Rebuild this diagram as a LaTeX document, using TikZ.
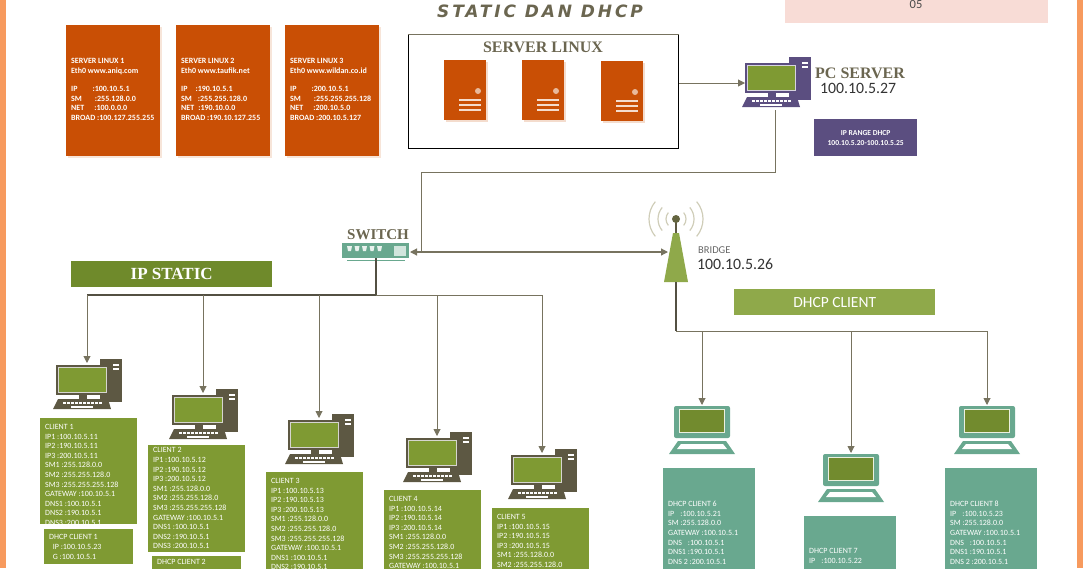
\documentclass[tikz,border=0pt]{standalone}
\usepackage{fontspec}
\setmainfont{Carlito}
\newfontfamily\TitleFont[LetterSpace=17]{DejaVu Sans}
\newfontfamily\HeadFont{Liberation Serif}
\usetikzlibrary{arrows.meta, calc, positioning, shadows}

\definecolor{FrameOrange}{HTML}{F79A5E}
\definecolor{PinkBox}{HTML}{F8DCD6}
\definecolor{ServerOrange}{HTML}{C94F05}
\definecolor{RangePurple}{HTML}{5B4E80}
\definecolor{ClientGreen}{HTML}{7F9A33}
\definecolor{BarGreen}{HTML}{6F8A2B}
\definecolor{BarLight}{HTML}{8FA94A}
\definecolor{DhcpTeal}{HTML}{69A88F}
\definecolor{IconBrown}{HTML}{5D5843}
\definecolor{WireGrey}{HTML}{77735F}
\definecolor{HeadGrey}{HTML}{6B6650}
\definecolor{WaveGrey}{HTML}{CFCDB8}

\tikzset{
	pics/Desktop/.style={code={
		\fill[#1] (13,-4) rectangle (35,39);									%Tower
		\fill[white] (26,1) rectangle (32,3);
		\fill[white] (26,5) rectangle (32,7);
		\fill[white] (10,0) rectangle (13,36);
		\fill[#1] (-31,2) rectangle (22,32);									%Monitor
		\fill[#1!25!white] (-29,4) rectangle (20,30);
		\fill[ClientGreen] (-28,5) rectangle (19,29);
		\fill[#1] (-8,32) rectangle (0,36);
		\fill[#1] (-29,36) -- (21,36) -- (24,46) -- (-34,46) -- cycle;			%Keyboard
		\foreach \k in {-24,-20,...,12} {\fill[white] (\k,39) rectangle ++(3,2);}
		\fill[white] (-16,43) rectangle (6,44.5);
	}},
	pics/Laptop/.style={code={
		\fill[DhcpTeal, rounded corners=2pt] (-28,1) rectangle (28,33);
		\fill[white!85!ClientGreen] (-23,4) rectangle (23,28);
		\fill[ClientGreen!90!black] (-22,5) rectangle (22,27);
		\fill[DhcpTeal] (-24,36) -- (24,36) -- (33,49) -- (-33,49) -- cycle;
		\fill[white] (-21,39) -- (21,39) -- (25,44) -- (-25,44) -- cycle;
	}},
	pics/ServerBox/.style={code={
		\fill[ServerOrange, drop shadow={shadow xshift=1.5pt, shadow yshift=-1.5pt, fill=ServerOrange!20, opacity=1}] (0,0) rectangle (42,60);
		\fill[white!60!ServerOrange] (34,31) circle (3);
		\foreach \l in {39,44,49} {\fill[white!80!ServerOrange] (15,\l) rectangle (37,\l+1.8);}
	}}
}

\begin{document}
\begin{tikzpicture}
		[
		x=1pt, y=-1pt,
		>={Triangle[length=7pt, width=7pt]},
		Wire/.style={draw=WireGrey, line width=0.95pt},
		Bus/.style={draw=WireGrey!70!black, line width=1.2pt},
		ServerCard/.style={anchor=north west, inner sep=0pt, fill=ServerOrange, minimum width=94pt, minimum height=131pt, drop shadow={shadow xshift=2pt, shadow yshift=-2pt, fill=ServerOrange!15, opacity=1}},
		CardBox/.style={anchor=north west, inner sep=0pt, fill=ClientGreen, minimum width=97pt},
		TealBox/.style={anchor=north west, inner sep=0pt, fill=DhcpTeal, minimum width=92pt, minimum height=130pt},
		CardText/.style={anchor=north west, inner sep=0pt, align=left, text=white, font=\fontsize{8}{9.6}\selectfont},
		ServerText/.style={CardText, font=\bfseries\fontsize{8}{9.6}\selectfont},
		HeadText/.style={text=HeadGrey, inner sep=0pt, font=\HeadFont\bfseries\fontsize{16}{16}\selectfont},
		IpText/.style={inner sep=0pt, anchor=west, text=black!80, font=\fontsize{15.8}{16}\selectfont}
		]
		\useasboundingbox (0,0) rectangle (1083,568);
		\clip (0,0) rectangle (1083,568);

		% Rahmen und Titel
		\fill[FrameOrange] (0,0) rectangle (6,568);
		\fill[FrameOrange] (1077,0) rectangle (1083,568);
		\node[inner sep=0pt, text=HeadGrey, font=\TitleFont\bfseries\itshape\fontsize{17}{17}\selectfont] (title) at (540,11) {STATIC DAN DHCP};
		\node[anchor=north west, inner sep=0pt, fill=PinkBox, minimum width=263pt, minimum height=23pt] (pinkBox) at (785,0) {};
		\node[inner sep=0pt, text=black!70, font=\fontsize{12.5}{12.5}\selectfont] (pinkText) at (916,4.5) {05};

		% Server Karten
		\node[ServerCard] (card1) at (66,25) {};
		\node[ServerCard] (card2) at (176,25) {};
		\node[ServerCard] (card3) at (285,25) {};
		\node[ServerText] (cardText1) at (71,58) {SERVER LINUX 1\\Eth0 www.aniq.com\\[9pt]IP\hspace{15pt}:100.10.5.1\\SM\hspace{13pt}:255.128.0.0\\NET\hspace{10pt}:100.0.0.0\\BROAD :100.127.255.255};
		\node[ServerText] (cardText2) at (181,58) {SERVER LINUX 2\\Eth0 www.taufik.net\\[9pt]IP\hspace{8pt}:190.10.5.1\\SM\hspace{6pt}:255.255.128.0\\NET\hspace{4pt}:190.10.0.0\\BROAD :190.10.127.255};
		\node[ServerText] (cardText3) at (290,58) {SERVER LINUX 3\\Eth0 www.wildan.co.id\\[9pt]IP\hspace{15pt}:200.10.5.1\\SM\hspace{13pt}:255.255.255.128\\NET\hspace{10pt}:200.10.5.0\\BROAD :200.10.5.127};

		% Server Linux
		\node[anchor=north west, draw=black, line width=0.9pt, inner sep=0pt, minimum width=270pt, minimum height=114pt] (serverFrame) at (408,34) {};
		\draw[WireGrey, line width=0.9pt] (serverFrame.north west) -- (serverFrame.north east);
		\node[HeadText] (serverHead) at (543,47) {SERVER LINUX};
		\pic at (444,60) {ServerBox};
		\pic at (522,60) {ServerBox};
		\pic at (601,61) {ServerBox};

		% PC Server
		\coordinate (pcServer) at (776,61);
		\pic at (pcServer) {Desktop=RangePurple};
		\coordinate (pcIn) at (745,83);
		\coordinate (pcOut) at (775,110);
		\node[HeadText, anchor=west] (pcHead) at (815,73) {PC SERVER};
		\node[IpText] (pcIp) at (820,88) {100.10.5.27};
		\node[anchor=north west, inner sep=0pt, fill=RangePurple, minimum width=103pt, minimum height=37pt, align=center] (rangeBox) at (814,119) {};
		\node[inner sep=0pt, align=center, text=white, font=\bfseries\fontsize{7.6}{10}\selectfont] (rangeText) at (rangeBox.center) {IP RANGE DHCP\\100.10.5.20-100.10.5.25};

		% Switch
		\node[anchor=north west, inner sep=0pt, fill=DhcpTeal, minimum width=67pt, minimum height=15pt] (switch) at (342,243) {};
		\foreach \p in {347,354.5,...,377} {\fill[white!85!DhcpTeal] (\p,246) -- (\p+5,246) -- (\p+4,251) -- (\p+1,251) -- cycle;}
		\fill[white!70!DhcpTeal] (394,245.5) rectangle (406,255.5);
		\draw[DhcpTeal, line width=0.7pt] (347,260.5) -- (405,260.5);
		\node[HeadText, font=\HeadFont\bfseries\fontsize{15}{15}\selectfont] (switchHead) at (378,235) {SWITCH};

		% Bridge
		\coordinate (bridge) at (676,219);
		\fill[BarLight] (673,233) -- (679,233) -- (688,282) -- (664,282) -- cycle;
		\draw[IconBrown, line width=1.6pt] (bridge) -- (676,233);
		\fill[IconBrown!80!ClientGreen] (bridge) circle (4);
		\foreach \r in {10,18,27} {
			\draw[WaveGrey, line width=1.2pt] ($(bridge)+(40:\r)$) arc[start angle=40, end angle=-40, radius=\r];
			\draw[WaveGrey, line width=1.2pt] ($(bridge)+(140:\r)$) arc[start angle=140, end angle=220, radius=\r];
		}
		\node[inner sep=0pt, anchor=west, text=black!60, font=\fontsize{10.5}{10.5}\selectfont] (bridgeHead) at (698,250) {BRIDGE};
		\node[IpText] (bridgeIp) at (697,264) {100.10.5.26};

		% Balken
		\node[anchor=north west, inner sep=0pt, fill=BarGreen, minimum width=201pt, minimum height=26pt] (staticBar) at (71,261) {};
		\node[inner sep=0pt, text=white, font=\HeadFont\bfseries\fontsize{17}{17}\selectfont] (staticText) at (staticBar.center) {IP STATIC};
		\node[anchor=north west, inner sep=0pt, fill=BarLight, minimum width=201pt, minimum height=26pt] (dhcpBar) at (734,289) {};
		\node[inner sep=0pt, text=white, font=\fontsize{15.5}{15.5}\selectfont] (dhcpText) at (dhcpBar.center) {DHCP CLIENT};

		% Koordinaten der Verbindungen
		\coordinate (wireKnee) at (775,172);
		\coordinate (wireDrop) at (421,172);
		\coordinate (wireJoin) at (421,252);
		\coordinate (switchIn) at (410,252);
		\coordinate (bridgeIn) at (668,252);
		\coordinate (switchOut) at (376,258);
		\coordinate (busNode) at (376,295);
		\coordinate (bridgeOut) at (676,282);
		\coordinate (dhcpNode) at (676,331);
		\coordinate (pc1) at (87,363);
		\coordinate (pc2) at (203,393);
		\coordinate (pc3) at (319,418);
		\coordinate (pc4) at (437,436);
		\coordinate (pc5) at (542,453);
		\coordinate (lap6) at (702,405);
		\coordinate (lap7) at (851,453);
		\coordinate (lap8) at (987,405);

		% Verbindungen
		\draw[Wire, ->] (serverFrame.east |- pcIn) -- (pcIn);
		\draw[Wire] (pcOut) -- (wireKnee) -- (wireDrop) -- (wireJoin);
		\draw[Wire, <->, line width=1.2pt] (switchIn) -- (bridgeIn);
		\draw[Bus] (switchOut) -- (busNode);
		\draw[Bus] (pc1 |- busNode) -- (busNode);
		\draw[Wire] (busNode) -- (pc5 |- busNode);
		\foreach \c in {pc1,pc2,pc3,pc4,pc5} {\draw[Wire, ->] (\c |- busNode) -- (\c);}
		\draw[Bus] (bridgeOut) -- (dhcpNode);
		\draw[Wire] (dhcpNode) -- (lap8 |- dhcpNode);
		\foreach \c in {lap6,lap7,lap8} {\draw[Wire, ->] (\c |- dhcpNode) -- (\c);}

		% Clients
		\foreach \c in {pc1,pc2,pc3,pc4,pc5} {\pic at (\c) {Desktop=IconBrown};}
		\foreach \c in {lap6,lap7,lap8} {\pic at (\c) {Laptop};}

		\node[CardBox, minimum height=106pt] (client1) at (40,418) {};
		\begin{scope}
			\clip (40,418) rectangle (137,524);
			\node[CardText] (clientText1) at (45,424) {CLIENT 1\\IP1 :100.10.5.11\\IP2 :190.10.5.11\\IP3 :200.10.5.11\\SM1 :255.128.0.0\\SM2 :255.255.128.0\\SM3 :255.255.255.128\\GATEWAY :100.10.5.1\\DNS1 :100.10.5.1\\DNS2 :190.10.5.1\\DNS3 :200.10.5.1};
		\end{scope}
		\node[CardBox, minimum width=89pt, minimum height=35pt] (dhcpBox1) at (44,529) {};
		\node[CardText] (dhcpText1) at (49,534.5) {DHCP CLIENT 1\\\ \ IP :100.10.5.23\\\ \ G :100.10.5.1};

		\node[CardBox, minimum height=107pt] (client2) at (148,445) {};
		\node[CardText] (clientText2) at (153,447.5) {CLIENT 2\\IP1 :100.10.5.12\\IP2 :190.10.5.12\\IP3 :200.10.5.12\\SM1 :255.128.0.0\\SM2 :255.255.128.0\\SM3 :255.255.255.128\\GATEWAY :100.10.5.1\\DNS1 :100.10.5.1\\DNS2 :190.10.5.1\\DNS3 :200.10.5.1};
		\node[CardBox, minimum width=89pt, minimum height=30pt] (dhcpBox2) at (152,556) {};
		\node[CardText] (dhcpText2) at (157,559) {DHCP CLIENT 2};

		\node[CardBox, minimum height=110pt] (client3) at (266,472) {};
		\node[CardText] (clientText3) at (271,478) {CLIENT 3\\IP1 :100.10.5.13\\IP2 :190.10.5.13\\IP3 :200.10.5.13\\SM1 :255.128.0.0\\SM2 :255.255.128.0\\SM3 :255.255.255.128\\GATEWAY :100.10.5.1\\DNS1 :100.10.5.1\\DNS2 :190.10.5.1};

		\node[CardBox, minimum height=90pt] (client4) at (384,490) {};
		\node[CardText] (clientText4) at (389,496) {CLIENT 4\\IP1 :100.10.5.14\\IP2 :190.10.5.14\\IP3 :200.10.5.14\\SM1 :255.128.0.0\\SM2 :255.255.128.0\\SM3 :255.255.255.128\\GATEWAY :100.10.5.1\\DNS1 :100.10.5.1};

		\node[CardBox, minimum height=70pt] (client5) at (492,508) {};
		\node[CardText] (clientText5) at (497,514) {CLIENT 5\\IP1 :100.10.5.15\\IP2 :190.10.5.15\\IP3 :200.10.5.15\\SM1 :255.128.0.0\\SM2 :255.255.128.0};

		% DHCP Clients
		\node[TealBox] (dhcpCard6) at (663,468) {};
		\node[CardText] (dhcpCardText6) at (668,501) {DHCP CLIENT 6\\IP\hspace{6pt}:100.10.5.21\\SM :255.128.0.0\\GATEWAY :100.10.5.1\\DNS\hspace{6pt}:100.10.5.1\\DNS1 :190.10.5.1\\DNS 2 :200.10.5.1};
		\node[TealBox] (dhcpCard7) at (804,516) {};
		\node[CardText] (dhcpCardText7) at (809,548) {DHCP CLIENT 7\\IP\hspace{6pt}:100.10.5.22};
		\node[TealBox] (dhcpCard8) at (945,468) {};
		\node[CardText] (dhcpCardText8) at (950,501) {DHCP CLIENT 8\\IP\hspace{6pt}:100.10.5.23\\SM :255.128.0.0\\GATEWAY :100.10.5.1\\DNS\hspace{6pt}:100.10.5.1\\DNS1 :190.10.5.1\\DNS 2 :200.10.5.1};
\end{tikzpicture}
\end{document}
